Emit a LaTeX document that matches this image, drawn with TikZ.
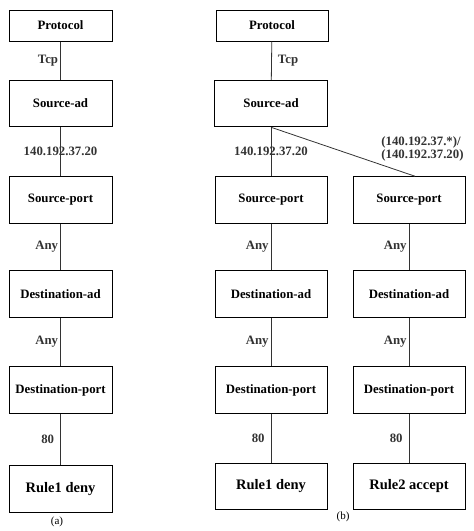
\documentclass[tikz,border=0pt]{standalone}
\usepackage{fontspec}
\setmainfont{Liberation Serif}
\begin{document}
\begin{tikzpicture}[
    x		= 1pt,
    y		= -1pt,
    field/.style	= {draw, line width=1pt, minimum width=103pt, minimum height=46.5pt, font=\bfseries\fontsize{12.8}{13}\selectfont},
    rulebox/.style	= {field, font=\bfseries\fontsize{14.5}{16}\selectfont},
    link/.style		= {line width=0.8pt, black!80},
    lbl/.style		= {inner sep=2pt, font=\bfseries\fontsize{12.8}{13}\selectfont}
  ]
\useasboundingbox (0,0) rectangle (474,531);
% tree (a)
\node[field, minimum height=31pt] (proto1) at (60.5,25.5) {Protocol};
\node[field] (srcad1) at (60.5,103.5) {Source-ad};
\node[field] (srcport1) at (60.5,200) {Source-port};
\node[field] (dstad1) at (60.5,294) {Destination-ad};
\node[field] (dstport1) at (60.5,390) {Destination-port};
\node[rulebox] (rule1) at (60.5,489) {Rule1 deny};
\draw[link] (proto1) -- node[lbl, left] {Tcp} (srcad1);
\draw[link] (srcad1) -- node[lbl] {140.192.37.20} (srcport1);
\draw[link] (srcport1) -- node[lbl, left] {Any} (dstad1);
\draw[link] (dstad1) -- node[lbl, left] {Any} (dstport1);
\draw[link] (dstport1) -- node[lbl, left=4pt] {80} (rule1);
\node[font=\fontsize{11}{12}\selectfont] (capa) at (57,522) {(a)};
% tree (b), first branch
\node[field, minimum width=112pt, minimum height=31pt] (proto2) at (272,25.5) {Protocol};
\node[field, minimum width=113pt] (srcad2) at (271,103.5) {Source-ad};
\node[field, minimum width=112pt] (srcport2) at (271,200) {Source-port};
\node[field, minimum width=112pt] (dstad2) at (271,294) {Destination-ad};
\node[field, minimum width=112pt] (dstport2) at (271,390) {Destination-port};
\node[rulebox, minimum width=112pt] (rule2) at (271,486.5) {Rule1 deny};
\draw[link] (proto2) -- node[lbl, right=4pt] {Tcp} (srcad2);
\draw[link] (srcad2) -- node[lbl] {140.192.37.20} (srcport2);
\draw[link] (srcport2) -- node[lbl, left] {Any} (dstad2);
\draw[link] (dstad2) -- node[lbl, left] {Any} (dstport2);
\draw[link] (dstport2) -- node[lbl, left=4pt] {80} (rule2);
% tree (b), second branch
\node[field, minimum width=112pt] (srcport3) at (409,200) {Source-port};
\node[field, minimum width=112pt] (dstad3) at (409,294) {Destination-ad};
\node[field, minimum width=112pt] (dstport3) at (409,390) {Destination-port};
\node[rulebox, minimum width=112pt] (rule3) at (409,486.5) {Rule2 accept};
\draw[link] (srcad2.south) -- node[lbl, pos=0.75, anchor=south west, align=left] {(140.192.37.*)/\\(140.192.37.20)} ([xshift=6pt]srcport3.north);
\draw[link] (srcport3) -- node[lbl, left] {Any} (dstad3);
\draw[link] (dstad3) -- node[lbl, left] {Any} (dstport3);
\draw[link] (dstport3) -- node[lbl, left=4pt] {80} (rule3);
\node[font=\fontsize{11}{12}\selectfont] (capb) at (343,517) {(b)};
%
\end{tikzpicture}
\end{document}
